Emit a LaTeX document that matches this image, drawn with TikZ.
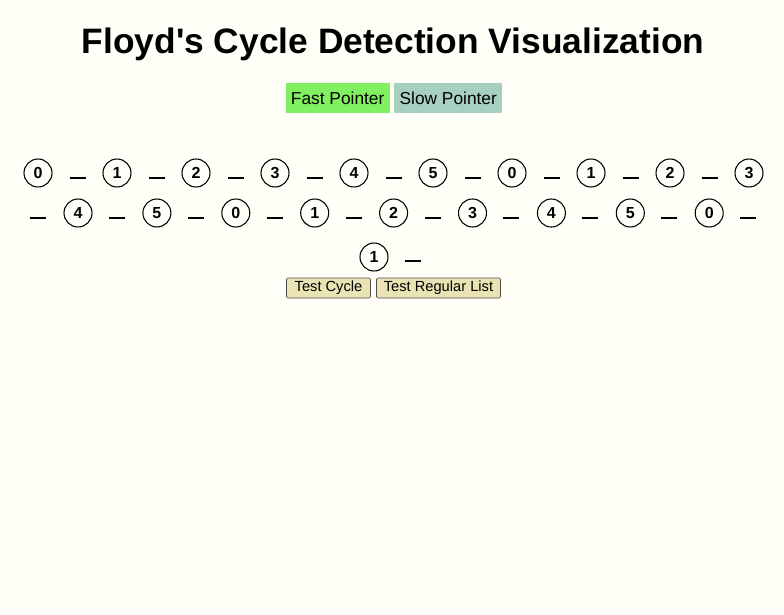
\documentclass[tikz,border=0pt]{standalone}
\usepackage{fontspec}
\setmainfont{Liberation Sans}[Ligatures=TeXOff]
\definecolor{btnfill}{HTML}{EAE4B4}
\definecolor{fastc}{HTML}{80F060}
\definecolor{slowc}{HTML}{A8D0C0}
\begin{document}
\begin{tikzpicture}[x=0.75pt,y=-0.75pt,
  nd/.style={circle,draw,line width=0.8pt,minimum size=21pt,inner sep=0pt,font=\bfseries\fontsize{12}{14}\selectfont},
  dsh/.style={line width=1.2pt},
  btn/.style={draw=black!70,fill=btnfill,rounded corners=1pt,minimum height=15pt,inner sep=2pt,font=\fontsize{11}{12}\selectfont},
  lbl/.style={minimum height=23pt,inner sep=4pt,font=\fontsize{13}{15}\selectfont}]
\fill[yellow!3] (0,0) rectangle (784,614);
\node[font=\bfseries\fontsize{26.5}{31}\selectfont] (title) at (393,44) {Floyd's Cycle Detection Visualization};
\node[lbl,fill=fastc,anchor=east] (fast) at (390,98) {Fast Pointer};
\node[lbl,fill=slowc,anchor=west] (slow) at (394,98) {Slow Pointer};
% row 1
\foreach \v [count=\i from 0] in {0,1,2,3,4,5,0,1,2,3} {
  \node[nd] (a\i) at (38+79*\i,173) {\v};
}
\foreach \i in {0,...,8} {
  \draw[dsh] (70+79*\i,178) -- (86+79*\i,178);
}
% row 2
\foreach \v [count=\i from 0] in {4,5,0,1,2,3,4,5,0} {
  \node[nd] (b\i) at (78+78.9*\i,213) {\v};
}
\foreach \i in {0,...,9} {
  \draw[dsh] (30+78.9*\i,218) -- (46+78.9*\i,218);
}
% row 3
\node[nd] (c0) at (374,257) {1};
\draw[dsh] (405,261) -- (421,261);
\node[btn,minimum width=63pt] (tc) at (328.5,288) {Test Cycle};
\node[btn,minimum width=93pt] (tr) at (438.5,288) {Test Regular List};
\end{tikzpicture}
\end{document}
